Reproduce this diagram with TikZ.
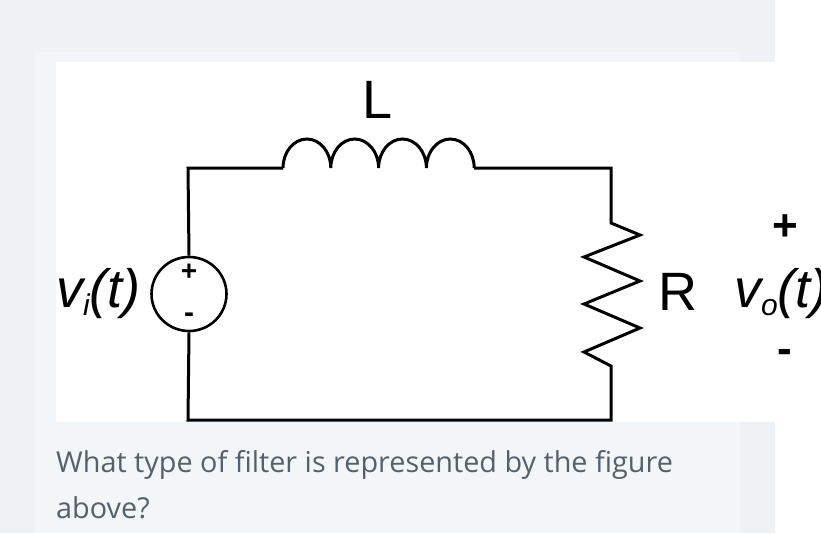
\documentclass[tikz,border=0pt]{standalone}
\usepackage{fontspec}
\usetikzlibrary{shapes.geometric}
\setmainfont{Liberation Sans}
\newfontfamily\osans{Open Sans}
\definecolor{bgc}{HTML}{EEF2F4}
\definecolor{cardc}{HTML}{F3F6F8}
\definecolor{txtc}{HTML}{56606A}
\begin{document}
\begin{tikzpicture}[x=1pt,y=-1pt,
  wire/.style={line width=3pt,line join=miter},
  lab/.style={inner sep=0pt,font=\fontsize{54}{54}\selectfont}]
\useasboundingbox (0,0) rectangle (821,533);
\fill[white] (0,0) rectangle (821,533);
\fill[bgc] (0,0) rectangle (775,533);
\fill[cardc] (35,52) rectangle (740,533);
\fill[white] (56,62) rectangle (775,422);
\clip (0,0) rectangle (821,533);
% nodes
\node[draw,line width=2.6pt,ellipse,minimum width=75pt,minimum height=74pt,inner sep=0pt] (src) at (189,294) {};
\coordinate (tl) at (188,168);
\coordinate (l1) at (283,168);
\coordinate (l2) at (474,168);
\coordinate (tr) at (611,168);
\coordinate (r1) at (611,223);
\coordinate (r2) at (611,366);
\coordinate (br) at (611,420);
\coordinate (bl) at (188,420);
\draw[wire] (src.north) -- (tl) -- (l1);
\draw[wire] (l1) arc[start angle=180,end angle=0,x radius=23.9,y radius=-29]
  arc[start angle=180,end angle=0,x radius=23.9,y radius=-29]
  arc[start angle=180,end angle=0,x radius=23.9,y radius=-29]
  arc[start angle=180,end angle=0,x radius=23.9,y radius=-29] coordinate (le);
\draw[wire] (le) -- (l2) -- (tr) -- (r1) -- (640,235) -- (584,257) -- (640,281) -- (584,304) -- (640,328) -- (584,352) -- (r2) -- (br) -- (bl) -- (src.south);
\node[font=\fontsize{28}{28}\selectfont\bfseries] (pl) at (189,272) {+};
\node[font=\fontsize{30}{30}\selectfont\bfseries] (mi) at (189,318) {-};
\node[lab] (L) at (378,100) {L};
\node[lab,anchor=west] (vi) at (56,294) {\itshape v\raisebox{-8pt}{\fontsize{30}{30}\selectfont i}(t)};
\node[lab] (R) at (678,292) {R};
\node[lab,anchor=west] (vo) at (734,294) {\itshape v\raisebox{-8pt}{\fontsize{30}{30}\selectfont o}(t)};
\node[font=\fontsize{44}{44}\selectfont\bfseries] (vp) at (785,228) {+};
\node[font=\fontsize{44}{44}\selectfont\bfseries] (vm) at (785,356) {-};
\node[anchor=base west,inner sep=0pt,text=txtc,font=\osans\fontsize{28.8}{28.8}\selectfont] (q1) at (56,472) {What type of filter is represented by the figure};
\node[anchor=base west,inner sep=0pt,text=txtc,font=\osans\fontsize{28.8}{28.8}\selectfont] (q2) at (56,518) {above?};
\end{tikzpicture}
\end{document}
